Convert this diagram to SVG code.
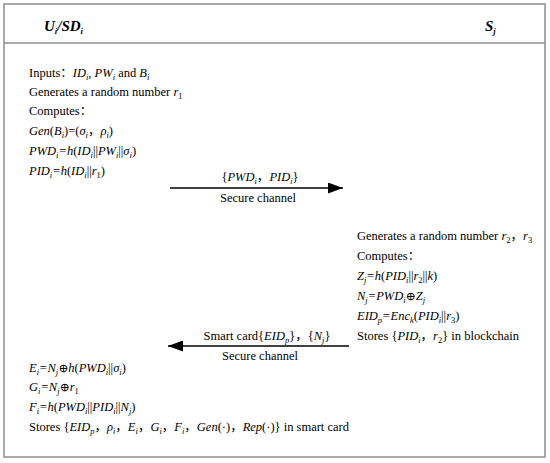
<svg xmlns="http://www.w3.org/2000/svg" width="550" height="463" viewBox="0 0 550 463">
<style>
.t{font-family:"Liberation Serif","Times New Roman","Noto Sans CJK SC",serif;font-size:12.5px;fill:#000}
.h{font-family:"Liberation Serif","Times New Roman",serif;font-size:15px;font-weight:bold;font-style:italic;fill:#000}
.i{font-style:italic}
.s{font-size:8.5px;baseline-shift:-3px}
.x{font-family:"DejaVu Serif",serif;font-size:12px}
.frame{fill:none;stroke:#8c8c8c;stroke-width:1.5}
.conn{stroke:#000;stroke-width:1.5;fill:none}
</style>
<defs>
<marker id="ah" viewBox="0 0 10 8" refX="10" refY="4" markerWidth="15" markerHeight="11" markerUnits="userSpaceOnUse" orient="auto" preserveAspectRatio="none">
<path d="M0,0 L10,4 L0,8 Z" fill="#000"/>
</marker>
</defs>
<rect class="frame" x="4" y="4" width="541" height="453"/>
<line class="frame" x1="4" y1="43" x2="545" y2="43"/>

<g id="header-user">
<text class="h" x="44" y="31">U<tspan class="s">i</tspan>/SD<tspan class="s">i</tspan></text>
</g>
<g id="header-server">
<text class="h" x="485" y="31">S<tspan class="s">j</tspan></text>
</g>

<g id="user-step1">
<text class="t" x="29" y="77">Inputs：<tspan class="i">ID<tspan class="s">i</tspan></tspan>, <tspan class="i">PW<tspan class="s">i</tspan></tspan> and <tspan class="i">B<tspan class="s">i</tspan></tspan></text>
<text class="t" x="29" y="96">Generates a random number <tspan class="i">r</tspan><tspan class="s">1</tspan></text>
<text class="t" x="29" y="115">Computes：</text>
<text class="t" x="29" y="135"><tspan class="i">Gen</tspan>(<tspan class="i">B<tspan class="s">i</tspan></tspan>)=(<tspan class="i">σ<tspan class="s">i</tspan></tspan>，<tspan class="i">ρ<tspan class="s">i</tspan></tspan>)</text>
<text class="t" x="29" y="155"><tspan class="i">PWD<tspan class="s">i</tspan>=h</tspan>(<tspan class="i">ID<tspan class="s">i</tspan></tspan>||<tspan class="i">PW<tspan class="s">i</tspan></tspan>||<tspan class="i">σ<tspan class="s">i</tspan></tspan>)</text>
<text class="t" x="29" y="175"><tspan class="i">PID<tspan class="s">i</tspan>=h</tspan>(<tspan class="i">ID<tspan class="s">i</tspan></tspan>||<tspan class="i">r</tspan><tspan class="s">1</tspan>)</text>
</g>

<g id="server-step">
<text class="t" x="357" y="240">Generates a random number <tspan class="i">r</tspan><tspan class="s">2</tspan>，<tspan class="i">r</tspan><tspan class="s">3</tspan></text>
<text class="t" x="357" y="260">Computes：</text>
<text class="t" x="357" y="280"><tspan class="i">Z<tspan class="s">j</tspan>=h</tspan>(<tspan class="i">PID<tspan class="s">i</tspan></tspan>||<tspan class="i">r</tspan><tspan class="s">2</tspan>||<tspan class="i">k</tspan>)</text>
<text class="t" x="357" y="300"><tspan class="i">N<tspan class="s">j</tspan>=PWD<tspan class="s">i</tspan></tspan><tspan class="x">⊕</tspan><tspan class="i">Z<tspan class="s">j</tspan></tspan></text>
<text class="t" x="357" y="320"><tspan class="i">EID<tspan class="s">p</tspan>=Enc<tspan class="s">k</tspan></tspan>(<tspan class="i">PID<tspan class="s">i</tspan></tspan>||<tspan class="i">r</tspan><tspan class="s">3</tspan>)</text>
<text class="t" x="357" y="340">Stores {<tspan class="i">PID<tspan class="s">i</tspan></tspan>，<tspan class="i">r</tspan><tspan class="s">2</tspan>} in blockchain</text>
</g>

<g id="user-step2">
<text class="t" x="29" y="372"><tspan class="i">E<tspan class="s">i</tspan>=N<tspan class="s">j</tspan></tspan><tspan class="x">⊕</tspan><tspan class="i">h</tspan>(<tspan class="i">PWD<tspan class="s">i</tspan></tspan>||<tspan class="i">σ<tspan class="s">i</tspan></tspan>)</text>
<text class="t" x="29" y="391"><tspan class="i">G<tspan class="s">i</tspan>=N<tspan class="s">j</tspan></tspan><tspan class="x">⊕</tspan><tspan class="i">r</tspan><tspan class="s">1</tspan></text>
<text class="t" x="29" y="411"><tspan class="i">F<tspan class="s">i</tspan>=h</tspan>(<tspan class="i">PWD<tspan class="s">i</tspan></tspan>||<tspan class="i">PID<tspan class="s">i</tspan></tspan>||<tspan class="i">N<tspan class="s">j</tspan></tspan>)</text>
<text class="t" x="29" y="431">Stores {<tspan class="i">EID<tspan class="s">p</tspan></tspan>，<tspan class="i">ρ<tspan class="s">i</tspan></tspan>，<tspan class="i">E<tspan class="s">i</tspan></tspan>，<tspan class="i">G<tspan class="s">i</tspan></tspan>，<tspan class="i">F<tspan class="s">i</tspan></tspan>，<tspan class="i">Gen</tspan>(·)，<tspan class="i">Rep</tspan>(·)} in smart card</text>
</g>

<g id="connectors">
<line class="conn" x1="170" y1="188" x2="343" y2="188" marker-end="url(#ah)"/>
<text class="t" x="260" y="181" text-anchor="middle">{<tspan class="i">PWD<tspan class="s">i</tspan></tspan>，<tspan class="i">PID<tspan class="s">i</tspan></tspan>}</text>
<text class="t" x="258" y="202" text-anchor="middle">Secure channel</text>
<line class="conn" x1="349" y1="346" x2="168" y2="346" marker-end="url(#ah)"/>
<text class="t" x="267" y="340" text-anchor="middle">Smart card{<tspan class="i">EID<tspan class="s">p</tspan></tspan>}，{<tspan class="i">N<tspan class="s">j</tspan></tspan>}</text>
<text class="t" x="260" y="360" text-anchor="middle">Secure channel</text>
</g>
</svg>
